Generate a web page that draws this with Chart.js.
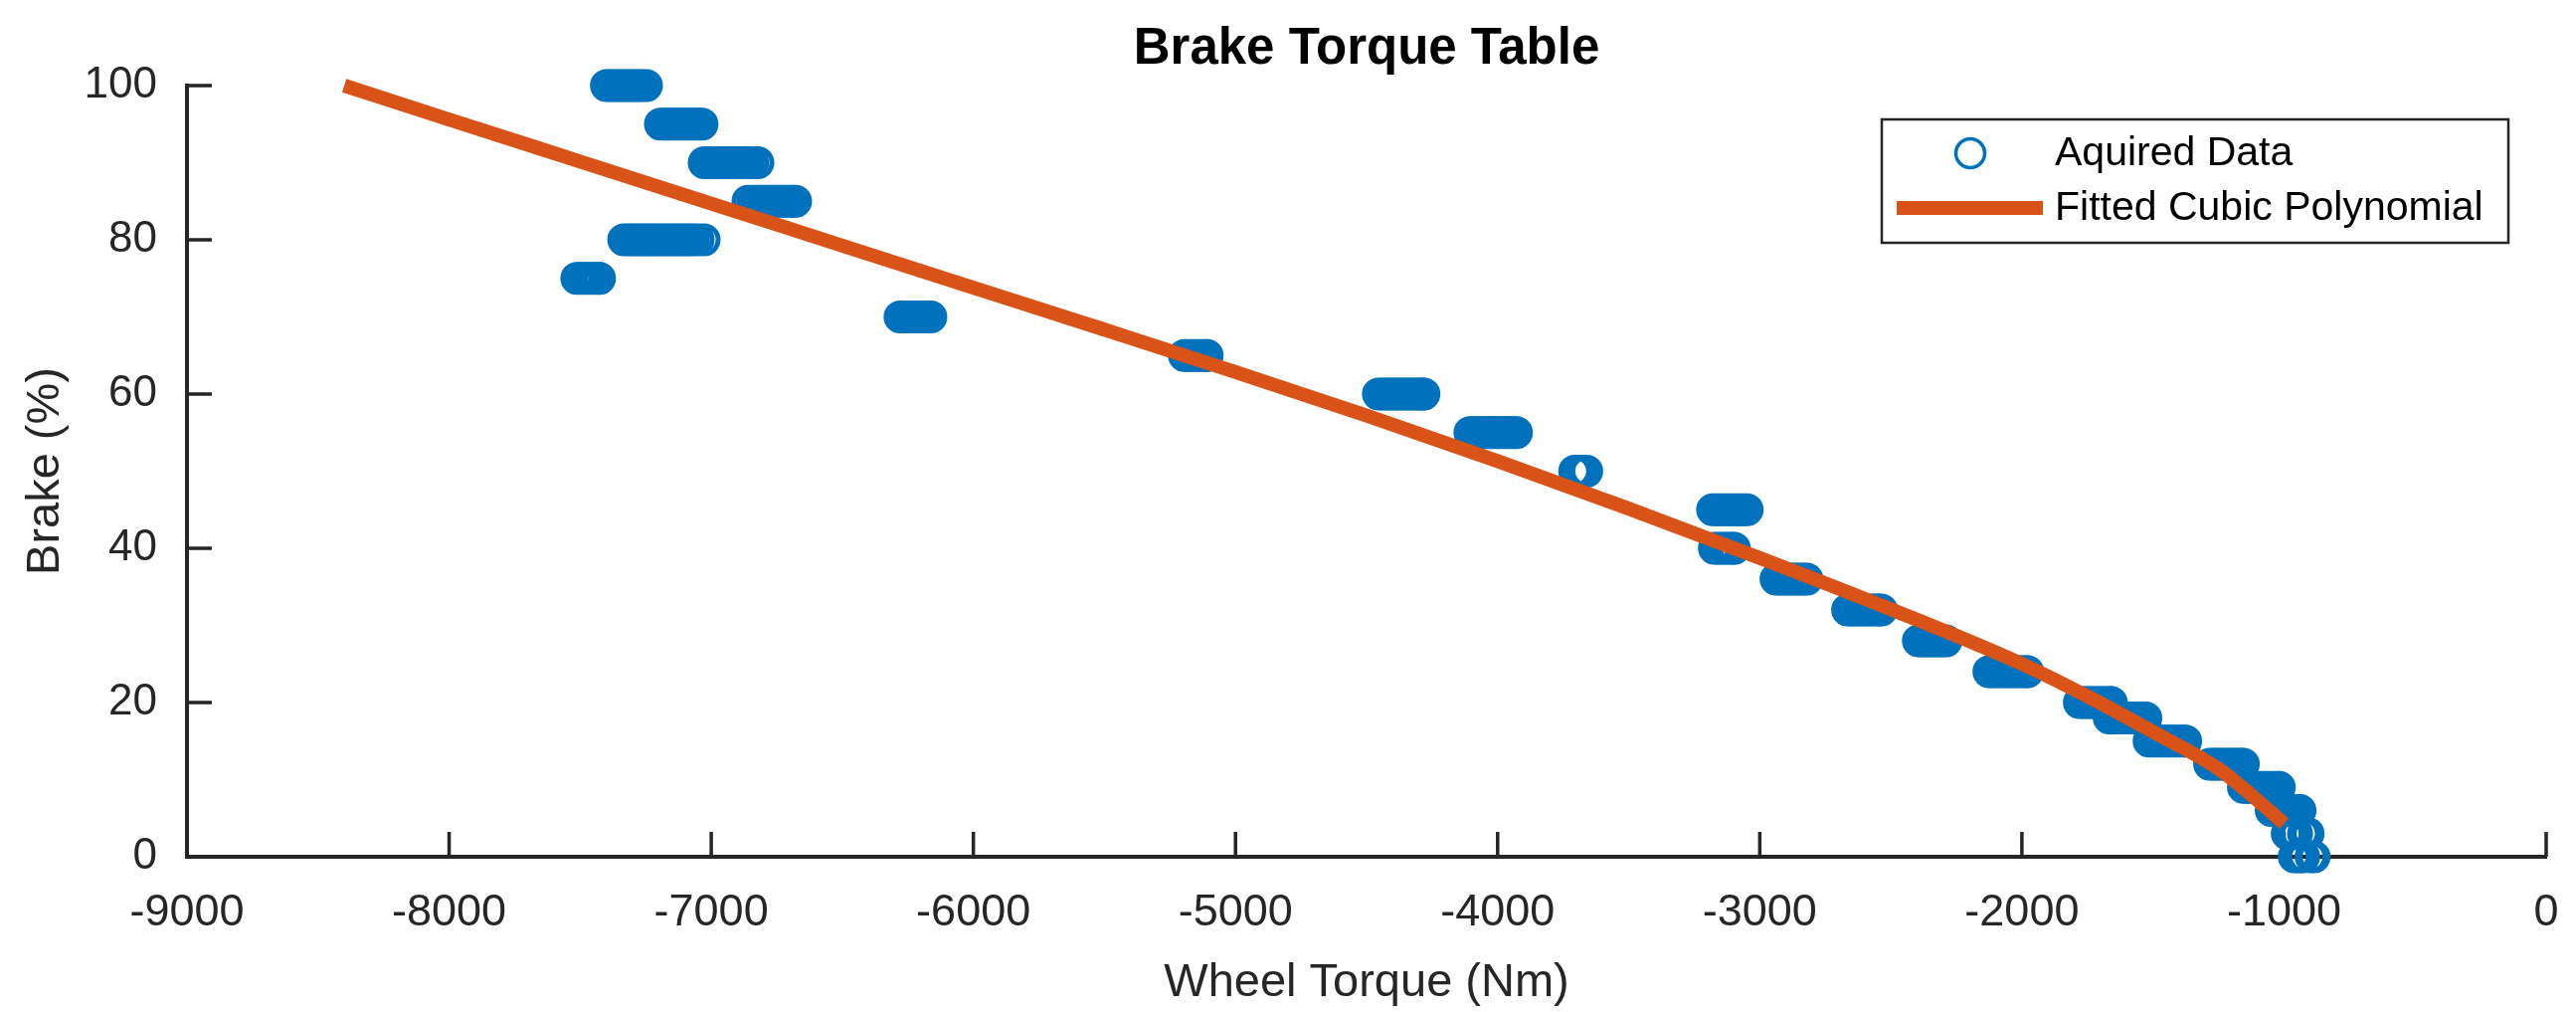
<!DOCTYPE html>
<html>
<head>
<meta charset="utf-8">
<title>Brake Torque Table</title>
<script src="https://cdn.jsdelivr.net/npm/chart.js@4.4.1/dist/chart.umd.min.js"></script>
<style>
  html, body { margin: 0; padding: 0; background: #fff; }
  #wrap { width: 2590px; height: 1017px; }
</style>
</head>
<body>
<div id="wrap"><canvas id="myChart"></canvas></div>
<script>
// brake levels (%) and the wheel torque readings (Nm) logged at each level
const brakeLevels = [100, 95, 90, 85, 80, 75, 70, 65, 60, 55, 50, 45, 40, 36, 32, 28, 24, 20, 18, 15, 12, 9, 6, 3, 0];
const torqueReadings = [
  [-7400,-7388,-7376,-7363,-7351,-7338,-7326,-7313,-7301,-7288,-7276,-7264,-7247],
  [-7194,-7178,-7167,-7155,-7143,-7131,-7119,-7107,-7095,-7083,-7071,-7059,-7047,-7035],
  [-7027,-7015,-7003,-6991,-6979,-6967,-6955,-6943,-6931,-6919,-6907,-6895,-6883,-6871,-6860,-6842,-6822],
  [-6860,-6842,-6830,-6818,-6806,-6794,-6782,-6770,-6758,-6746,-6734,-6722,-6710,-6698,-6686,-6678],
  [-7334,-7318,-7304,-7290,-7276,-7262,-7250,-7236,-7222,-7208,-7194,-7180,-7166,-7152,-7138,-7124,-7110,-7096,-7082,-7068,-7050,-7027],
  [-7513,-7501,-7489,-7477,-7465,-7453,-7441,-7429,-7426],
  [-6280,-6264,-6250,-6238,-6226,-6214,-6202,-6190,-6178,-6162],
  [-5195,-5183,-5171,-5159,-5147,-5135,-5123,-5111,-5108],
  [-4455,-4441,-4429,-4417,-4405,-4393,-4381,-4369,-4357,-4345,-4333,-4321,-4309,-4297,-4285,-4281],
  [-4106,-4094,-4082,-4070,-4058,-4046,-4034,-4022,-4010,-3998,-3986,-3974,-3962,-3950,-3938,-3928],
  [-3706,-3690,-3675,-3660],
  [-3180,-3168,-3156,-3144,-3132,-3120,-3108,-3096,-3084,-3072,-3060,-3048],
  [-3173,-3161,-3149,-3137,-3125,-3113,-3101,-3097],
  [-2938,-2926,-2914,-2902,-2890,-2878,-2866,-2854,-2842,-2830,-2820],
  [-2665,-2653,-2641,-2629,-2617,-2605,-2593,-2581,-2569,-2557,-2545,-2536],
  [-2395,-2383,-2371,-2359,-2347,-2335,-2323,-2311,-2299,-2289],
  [-2126,-2114,-2102,-2090,-2078,-2066,-2054,-2042,-2030,-2018,-2006,-1994,-1982,-1978],
  [-1781,-1769,-1757,-1745,-1733,-1721,-1709,-1697,-1685,-1673,-1661,-1659],
  [-1667,-1655,-1643,-1631,-1619,-1607,-1595,-1583,-1571,-1559,-1547,-1535,-1527],
  [-1515,-1503,-1491,-1479,-1467,-1455,-1443,-1431,-1419,-1407,-1395,-1383,-1375],
  [-1284,-1272,-1260,-1248,-1236,-1224,-1212,-1200,-1188,-1176,-1164,-1155],
  [-1155,-1143,-1131,-1119,-1107,-1095,-1083,-1071,-1059,-1047,-1035,-1023,-1018],
  [-1049,-1037,-1025,-1013,-1001,-989,-977,-965,-953,-941,-939],
  [-988,-976,-964,-952,-926,-914,-908],
  [-961,-949,-937,-925,-897,-885]
];

// fitted cubic
const fitTorque = [-8400, -8000, -7500, -7000, -6500, -6000, -5500, -5000, -4500, -4000, -3500, -3000, -2500, -2000, -1750, -1500, -1250, -1125, -1000];
const fitBrake  = [100, 95.6, 90.15, 84.7, 79.25, 73.8, 68.35, 62.85, 57.2, 51.3, 45.15, 38.75, 32.1, 25.0, 20.8, 16.2, 11.4, 8.0, 4.3];

const xTicks = [-9000, -8000, -7000, -6000, -5000, -4000, -3000, -2000, -1000, 0];
const yTicks = [0, 20, 40, 60, 80, 100];

const FONT = '"Liberation Sans", Arial, Helvetica, sans-serif';
const AXIS = '#262626';
const BLUE = '#0072BD';
const ORANGE = '#D95319';
const TITLE = 'Brake Torque Table';

const scatterPts = [];
brakeLevels.forEach((b, i) => {
  torqueReadings[i].forEach(t => scatterPts.push({x: t, y: b}));
});
const fitPts = fitTorque.map((t, i) => ({x: t, y: fitBrake[i]}));

// matlab style ticks pointing into the plot
const inwardTicks = {
  id: 'inwardTicks',
  beforeDatasetsDraw(chart) {
    const {ctx, chartArea: a, scales: {x, y}} = chart;
    ctx.save();
    ctx.strokeStyle = AXIS;
    ctx.lineWidth = 3.5;
    ctx.beginPath();
    x.ticks.forEach(t => {
      const px = x.getPixelForValue(t.value);
      ctx.moveTo(px, a.bottom);
      ctx.lineTo(px, a.bottom - 25);
    });
    y.ticks.forEach(t => {
      const py = y.getPixelForValue(t.value);
      ctx.moveTo(a.left, py);
      ctx.lineTo(a.left + 25, py);
    });
    ctx.stroke();
    ctx.restore();
  }
};

// title centred over the axes, legend box in the top right corner
const axesDecor = {
  id: 'axesDecor',
  afterDraw(chart) {
    const {ctx, chartArea: a} = chart;
    const ds = chart.data.datasets;
    ctx.save();
    ctx.fillStyle = '#000';
    ctx.font = 'bold 51px ' + FONT;
    ctx.textAlign = 'center';
    ctx.textBaseline = 'middle';
    ctx.fillText(TITLE, (a.left + a.right) / 2, 50);

    const bw = 630, bh = 124;
    const bx = a.right - 38 - bw, by = a.top + 34;
    ctx.fillStyle = '#fff';
    ctx.fillRect(bx, by, bw, bh);
    ctx.strokeStyle = AXIS;
    ctx.lineWidth = 2.5;
    ctx.strokeRect(bx, by, bw, bh);

    const r1 = by + 34, r2 = by + 89;
    ctx.strokeStyle = ds[0].borderColor;
    ctx.lineWidth = 3.5;
    ctx.beginPath();
    ctx.arc(bx + 89, r1, 14.5, 0, Math.PI * 2);
    ctx.stroke();

    ctx.strokeStyle = ds[1].borderColor;
    ctx.lineWidth = 14;
    ctx.beginPath();
    ctx.moveTo(bx + 15, r2);
    ctx.lineTo(bx + 162, r2);
    ctx.stroke();

    ctx.fillStyle = '#000';
    ctx.font = '41px ' + FONT;
    ctx.textAlign = 'left';
    ctx.fillText(ds[0].label, bx + 174, r1 + 1);
    ctx.fillText(ds[1].label, bx + 174, r2 + 1);
    ctx.restore();
  }
};

const ctx = document.getElementById('myChart');

new Chart(ctx, {
  type: 'scatter',
  data: {
    datasets: [{
      label: 'Aquired Data',
      data: scatterPts,
      showLine: false,
      pointStyle: 'circle',
      pointRadius: 14,
      pointBorderWidth: 5,
      borderColor: BLUE,
      backgroundColor: 'rgba(0,0,0,0)',
      clip: false,
      order: 1
    }, {
      label: 'Fitted Cubic Polynomial',
      data: fitPts,
      showLine: true,
      pointRadius: 0,
      borderWidth: 14,
      borderColor: ORANGE,
      backgroundColor: ORANGE,
      cubicInterpolationMode: 'monotone',
      clip: false,
      order: 0
    }]
  },
  options: {
    responsive: true,
    maintainAspectRatio: false,
    devicePixelRatio: 1,
    animation: false,
    events: [],
    layout: {
      padding: {left: 0, right: 30, top: 86, bottom: 0}
    },
    plugins: {
      legend: false,
      tooltip: {enabled: false},
      title: {display: false}
    },
    scales: {
      x: {
        type: 'linear',
        min: -9000,
        max: 0,
        afterBuildTicks: s => { s.ticks = xTicks.map(v => ({value: v})); },
        ticks: {
          color: AXIS,
          font: {family: FONT, size: 45},
          padding: 22,
          maxRotation: 0,
          autoSkip: false,
          callback: v => String(v)
        },
        grid: {display: false},
        border: {display: true, color: AXIS, width: 4},
        title: {
          display: true,
          text: 'Wheel Torque (Nm)',
          color: AXIS,
          font: {family: FONT, size: 47},
          padding: {top: 0, bottom: 1}
        },
        afterFit: s => { s.height = 156; s.paddingLeft = 0; s.paddingRight = 0; }
      },
      y: {
        type: 'linear',
        min: 0,
        max: 100,
        afterBuildTicks: s => { s.ticks = yTicks.map(v => ({value: v})); },
        ticks: {
          color: AXIS,
          font: {family: FONT, size: 44},
          padding: 22,
          callback: v => String(v)
        },
        grid: {display: false},
        border: {display: true, color: AXIS, width: 4},
        title: {
          display: true,
          text: 'Brake (%)',
          color: AXIS,
          font: {family: FONT, size: 47},
          padding: {top: 18, bottom: 0}
        },
        afterFit: s => { s.width = 188; s.paddingTop = 0; s.paddingBottom = 0; }
      }
    }
  },
  plugins: [inwardTicks, axesDecor]
});
</script>
</body>
</html>
